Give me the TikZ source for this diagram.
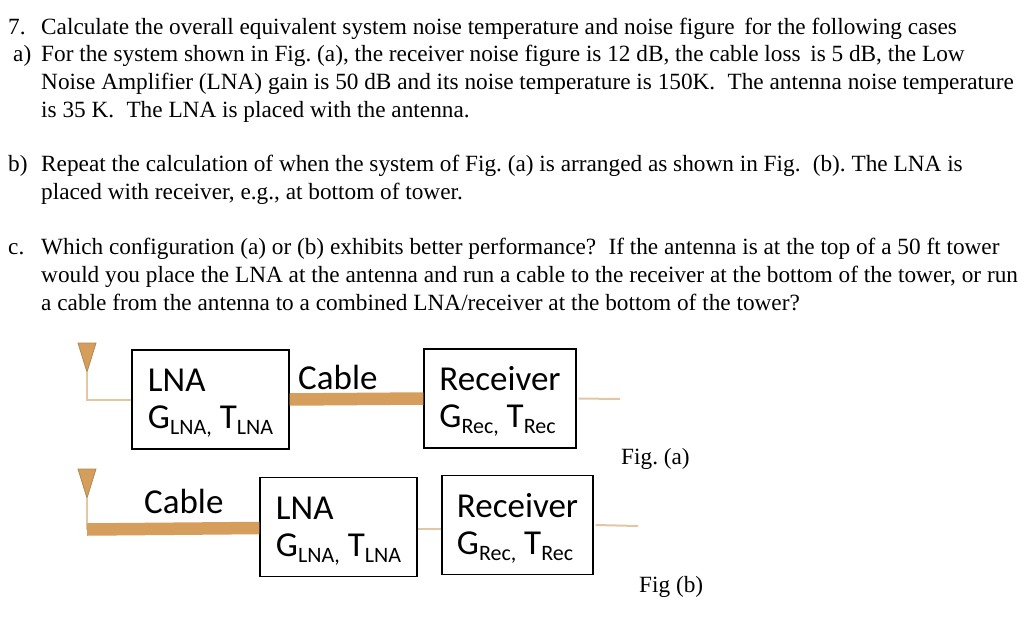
\documentclass[tikz,border=0pt]{standalone}
\usepackage{fontspec}
\setmainfont{Liberation Serif}
\newfontfamily\blockfont{Carlito}
\definecolor{cableclr}{HTML}{D69E5C}
\definecolor{wireclr}{HTML}{E3C6A4}
\definecolor{antedge}{HTML}{B08850}
\newcommand{\subtxt}[1]{\raisebox{-6pt}{\fontsize{22}{22}\selectfont #1}}
\newcommand{\topstrut}{\rule{0pt}{30pt}}
\frenchspacing
\tikzset{
  body/.style={anchor=base west,inner sep=0pt,font=\fontsize{23.27}{26}\selectfont},
  block/.style={draw,line width=1.4pt,minimum width=#1,minimum height=99,inner sep=0pt,align=left,font=\fontsize{35}{37}\blockfont},
  lbl/.style={anchor=base west,inner sep=0pt,font=\fontsize{35}{37}\blockfont},
  cable/.style={line width=12.5pt,cableclr},
  wire/.style={line width=2pt,wireclr},
  ant/.style={fill=cableclr,draw=antedge,line width=0.8pt}
}
\begin{document}
\begin{tikzpicture}[x=1pt,y=-1pt]
\useasboundingbox (0,0) rectangle (1024,628);
\fill[white] (0,0) rectangle (1024,628);

\node[body] (numq) at (8,35) {7.};
\node[body] (linea) at (41,35) {Calculate the overall equivalent system noise temperature and noise figure\, for the following cases};
\node[body] (numa) at (13,62) {a)};
\node[body] (lineb) at (41,62) {For the system shown in Fig. (a), the receiver noise figure is 12 dB, the cable loss\, is 5 dB, the Low};
\node[body] (linec) at (41,90) {Noise Amplifier (LNA) gain is 50 dB and its noise temperature is 150K.\; The antenna noise temperature};
\node[body] (lined) at (41,118) {is 35 K.\; The LNA is placed with the antenna.};

\node[body] (numb) at (8,172) {b)};
\node[body] (linee) at (41,172) {Repeat the calculation of when the system of Fig. (a) is arranged as shown in Fig.\; (b). The LNA is};
\node[body] (linef) at (41,200) {placed with receiver, e.g., at bottom of tower.};

\node[body] (numc) at (8,254) {c.};
\node[body] (lineg) at (41,254) {Which configuration (a) or (b) exhibits better performance?\; If the antenna is at the top of a 50 ft tower};
\node[body] (lineh) at (41,282) {would you place the LNA at the antenna and run a cable to the receiver at the bottom of the tower, or run};
\node[body] (linei) at (41,310) {a cable from the antenna to a combined LNA/receiver at the bottom of the tower?};

% Fig. (a)
\node[block=157] (lnaA) at (210.5,399.5) {\topstrut LNA\\G\subtxt{LNA,} T\subtxt{LNA}};
\node[block=152] (recA) at (500,398.5) {\topstrut Receiver\\G\subtxt{Rec,} T\subtxt{Rec}};
\node[lbl] (cabA) at (298,389) {Cable};
\node[body] (figA) at (621,464) {Fig. (a)};
\coordinate (antA) at (87,372);
\coordinate (outA) at (620,399);
\draw[ant] (78,343) -- (96,343) -- (antA) -- cycle;
\draw[wire] (antA) |- (lnaA.west);
\draw[cable] (lnaA.east) -- (recA.west);
\draw[wire] ([xshift=2pt]recA.east) -- (outA);

% Fig. (b)
\node[block=157] (lnaB) at (338.5,527) {\topstrut LNA\\G\subtxt{LNA,} T\subtxt{LNA}};
\node[block=151] (recB) at (517.5,525) {\topstrut Receiver\\G\subtxt{Rec,} T\subtxt{Rec}};
\node[lbl] (cabB) at (144,513) {Cable};
\node[body] (figB) at (639,592) {Fig (b)};
\coordinate (antB) at (87,498);
\coordinate (bendB) at (87,529.5);
\coordinate (outB) at (638,526);
\draw[ant] (78,469) -- (96,469) -- (antB) -- cycle;
\draw[wire] (antB) -- (bendB);
\draw[cable] (bendB) -- ([yshift=-1pt]lnaB.west);
\draw[wire] ([yshift=-2pt]lnaB.east) -- ([yshift=-4pt]recB.west);
\draw[wire] ([xshift=2pt]recB.east) -- (outB);
\end{tikzpicture}
\end{document}
